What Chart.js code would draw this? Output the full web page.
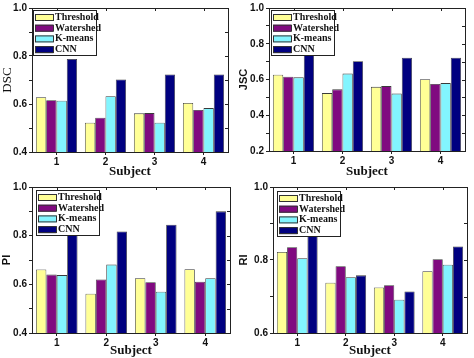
<!DOCTYPE html>
<html>
<head>
<meta charset="utf-8">
<script src="https://cdn.jsdelivr.net/npm/chart.js@4.4.1/dist/chart.umd.min.js"></script>
<style>
  html, body { margin: 0; padding: 0; background: #fff; }
  .panel { position: absolute; width: 237px; height: 179px; }
</style>
</head>
<body>
<div class="panel" style="left:0;top:0"><canvas id="chart-dsc"></canvas></div>
<div class="panel" style="left:237px;top:0"><canvas id="chart-jsc"></canvas></div>
<div class="panel" style="left:0;top:179px"><canvas id="chart-pi"></canvas></div>
<div class="panel" style="left:237px;top:179px"><canvas id="chart-ri"></canvas></div>
<script>
// Data (rows: Threshold, Watershed, K-means, CNN)
const subjects = ['1', '2', '3', '4'];
const methods = ['Threshold', 'Watershed', 'K-means', 'CNN'];
const methodColors = ['#ffff96', '#800a80', '#82f5ff', '#000080'];

const dscValues = [
    [0.628, 0.522, 0.561, 0.604],
    [0.616, 0.543, 0.562, 0.575],
    [0.614, 0.632, 0.522, 0.583],
    [0.788, 0.702, 0.723, 0.723]
];
const jscValues = [
    [0.627, 0.524, 0.559, 0.602],
    [0.615, 0.545, 0.563, 0.575],
    [0.612, 0.633, 0.521, 0.580],
    [0.788, 0.702, 0.722, 0.722]
];
const piValues = [
    [0.661, 0.561, 0.625, 0.662],
    [0.640, 0.620, 0.609, 0.611],
    [0.638, 0.681, 0.570, 0.625],
    [0.840, 0.817, 0.845, 0.900]
];
const riValues = [
    [0.822, 0.738, 0.725, 0.769],
    [0.835, 0.783, 0.731, 0.802],
    [0.805, 0.753, 0.691, 0.787],
    [0.890, 0.758, 0.714, 0.837]
];

const dscRange = [0.4, 1.0];
const jscRange = [0.2, 1.0];
const piRange = [0.4, 1.0];
const riRange = [0.6, 1.0];

const serif = "'Liberation Serif', 'DejaVu Serif', serif";
const sans = "'Liberation Sans', Arial, sans-serif";

// Box frame with small inward ticks on top/right
const framePlugin = {
    id: 'frame',
    afterDatasetsDraw(chart) {
        const { ctx, chartArea: a, scales } = chart;
        ctx.save();
        ctx.strokeStyle = '#222';
        ctx.lineWidth = 1;
        ctx.strokeRect(Math.round(a.left) + 0.5, Math.round(a.top) + 0.5,
            Math.round(a.right - a.left), Math.round(a.bottom - a.top));
        ctx.beginPath();
        scales.y.ticks.forEach(t => {
            const y = Math.round(scales.y.getPixelForValue(t.value)) + 0.5;
            ctx.moveTo(a.right, y);
            ctx.lineTo(a.right - 3, y);
        });
        subjects.forEach((s, i) => {
            const x = Math.round(scales.x.getPixelForValue(i)) + 0.5;
            ctx.moveTo(x, a.top);
            ctx.lineTo(x, a.top + 3);
        });
        ctx.stroke();
        ctx.restore();
    }
};

// Legend drawn inside the plot, on top of the bars
const boxLegendPlugin = {
    id: 'boxLegend',
    afterDatasetsDraw(chart, args, opts) {
        const { ctx, chartArea: a } = chart;
        const x0 = a.left + opts.dx, y0 = a.top + opts.dy;
        const w = 63, h = 45, row = 10.7;
        ctx.save();
        ctx.fillStyle = '#fff';
        ctx.fillRect(x0, y0, w, h);
        ctx.strokeStyle = '#222';
        ctx.lineWidth = 1;
        ctx.strokeRect(x0 + 0.5, y0 + 0.5, w, h);
        ctx.font = "bold 10px " + serif;
        ctx.textBaseline = 'middle';
        chart.data.datasets.forEach((ds, i) => {
            const cy = y0 + 7 + i * row;
            ctx.fillStyle = ds.backgroundColor;
            ctx.fillRect(x0 + 2, cy - 3, 18, 7);
            ctx.strokeStyle = '#333';
            ctx.strokeRect(x0 + 2.5, cy - 2.5, 18, 6);
            ctx.fillStyle = '#111';
            ctx.fillText(ds.label, x0 + 22, cy + 0.5);
        });
        ctx.restore();
    }
};

function makeChart(id, yTitle, yFont, values, range, box) {
    const datasets = methods.map((m, i) => ({
        label: m,
        data: values[i],
        backgroundColor: methodColors[i],
        borderColor: '#3a3a3a',
        borderWidth: 0.8,
        borderSkipped: 'bottom'
    }));
    return new Chart(document.getElementById(id), {
        type: 'bar',
        data: { labels: subjects, datasets },
        plugins: [framePlugin, boxLegendPlugin],
        options: {
            responsive: true,
            maintainAspectRatio: false,
            animation: false,
            categoryPercentage: 0.84,
            barPercentage: 1.0,
            layout: { padding: { top: box.top, right: box.right, left: 0, bottom: 0 } },
            plugins: {
                legend: { display: false },
                tooltip: { enabled: false },
                boxLegend: { dx: box.lx, dy: box.ly }
            },
            scales: {
                x: {
                    grid: { drawOnChartArea: false, offset: false, tickLength: 3, color: '#222' },
                    border: { color: '#222' },
                    ticks: { color: '#111', padding: 1, font: { family: sans, size: 10, weight: 'bold' } },
                    title: {
                        display: true, text: 'Subject', color: '#111', padding: { top: 0, bottom: 0 },
                        font: { family: serif, size: 13, weight: 'bold' }
                    },
                    afterFit: s => { s.height = box.xh; }
                },
                y: {
                    min: range[0],
                    max: range[1],
                    grid: { drawOnChartArea: false, tickLength: 3, color: '#222' },
                    border: { color: '#222' },
                    ticks: {
                        stepSize: 0.1,
                        color: '#111',
                        padding: 2,
                        font: { family: sans, size: 10, weight: 'bold' },
                        callback: v => {
                            const k = Math.round(v * 10);
                            return k % 2 === 0 ? (k / 10).toFixed(1) : '';
                        }
                    },
                    title: {
                        display: true, text: yTitle, color: '#111', padding: { top: 0, bottom: 0 },
                        font: yFont
                    },
                    afterFit: s => { s.width = box.yw; }
                }
            }
        }
    });
}

makeChart('chart-dsc', 'DSC', { family: serif, size: 13 }, dscValues, dscRange,
    { top: 6, right: 9, yw: 32, xh: 27, lx: 1, ly: 2 });
makeChart('chart-jsc', 'JSC', { family: sans, size: 11, weight: 'bold' }, jscValues, jscRange,
    { top: 6, right: 9, yw: 32, xh: 28, lx: 2, ly: 2 });
makeChart('chart-pi', 'PI', { family: sans, size: 11, weight: 'bold' }, piValues, piRange,
    { top: 8, right: 7, yw: 32, xh: 25, lx: 4, ly: 3 });
makeChart('chart-ri', 'RI', { family: sans, size: 11, weight: 'bold' }, riValues, riRange,
    { top: 8, right: 7, yw: 36, xh: 25, lx: 4, ly: 4 });
</script>
</body>
</html>
